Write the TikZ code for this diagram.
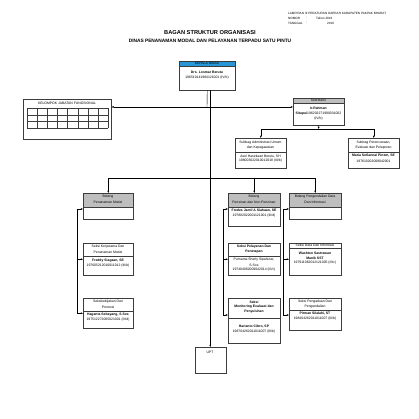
\documentclass[tikz,border=0pt]{standalone}
\usepackage{fontspec}
\setmainfont{Liberation Sans}
\usetikzlibrary{arrows.meta,calc}
\definecolor{kdblue}{RGB}{38,150,214}
\definecolor{hdrgray}{RGB}{190,190,190}
\definecolor{lnc}{RGB}{60,60,60}
\tikzset{
  box/.style={draw=lnc, line width=0.5pt, inner sep=0, anchor=north west, fill=white},
  hdr/.style={draw=lnc, line width=0.5pt},
  ln/.style={draw=black, line width=0.4pt},
  arr/.style={draw=black, line width=0.4pt, -{Latex[length=2.2pt,width=2pt]}},
  txt/.style={font=\fontsize{3.4}{4}\selectfont, inner sep=0, align=center},
  txtb/.style={font=\fontsize{3.4}{4}\selectfont\bfseries, inner sep=0, align=center},
  lamp/.style={font=\fontsize{3.1}{3.5}\selectfont, inner sep=0, anchor=west},
  ttla/.style={font=\fontsize{5.7}{6}\selectfont\bfseries, inner sep=0},
  ttlb/.style={font=\fontsize{4.8}{5.5}\selectfont\bfseries, inner sep=0}
}
\begin{document}
\begin{tikzpicture}[x=1pt,y=-1pt]
\useasboundingbox[fill=white] (0,0) rectangle (419,419);

% header texts
\node[lamp] (lp1) at (288,13) {LAMPIRAN III PERATURAN DAERAH KABUPATEN PAKPAK BHARAT};
\node[lamp] (lp2) at (288,18) {NOMOR};
\node[lamp] (lp2c) at (306,18) {:};
\node[lamp] (lp2v) at (316,18) {Tahun 2016};
\node[lamp] (lp3) at (288,23) {TANGGAL};
\node[lamp] (lp3c) at (306,23) {:};
\node[lamp] (lp3v) at (327,23) {2016};
\node[ttla] (ttl1) at (210,33) {BAGAN STRUKTUR ORGANISASI};
\node[ttlb] (ttl2) at (210,41) {DINAS PENANAMAN MODAL DAN PELAYANAN TERPADU SATU PINTU};

% Kepala Dinas
\node[box, minimum width=56pt, minimum height=29pt] (kd) at (179,61) {};
\filldraw[hdr, fill=kdblue] (kd.north west) rectangle ([yshift=-5pt]kd.north east);
\node[txt] (kd1) at (207,63.5) {KEPALA DINAS};
\node[txtb] (kd2) at (207,72) {Drs. Losmar Berutu};
\node[txt] (kd3) at (207,78) {196510141984121001 (IV/b)};

% Kelompok Jabatan Fungsional
\node[box, minimum width=88pt, minimum height=40pt] (kjf) at (23,99) {};
\node[txt] (kjf1) at (67,103) {KELOMPOK JABATAN FUNGSIONAL};
\foreach \i in {0,...,8} \draw[ln, draw=lnc] (26.7+\i*10.2,108.3) -- (26.7+\i*10.2,128.3);
\foreach \j in {0,...,3} \draw[ln, draw=lnc] (26.7,108.3+\j*6.67) -- (108.3,108.3+\j*6.67);

% Sekretaris
\node[box, minimum width=51pt, minimum height=27pt] (sek) at (293,98) {};
\filldraw[hdr, fill=hdrgray] (sek.north west) rectangle ([yshift=-5pt]sek.north east);
\node[txt] (sek1) at (318.5,100.5) {Sekretaris};
\node[txtb] (sek2) at (318.5,108) {Ir.Rahman};
\node[txt] (sek3) at (318.5,114) {\textbf{Situpu/}196202271990031002};
\node[txt] (sek4) at (318.5,119) {(IV/b)};

% Subbag
\node[box, minimum width=51pt, minimum height=30pt] (sa) at (235,138) {};
\draw[hdr] ([yshift=-14pt]sa.north west) -- ([yshift=-14pt]sa.north east);
\node[txt] (sa1) at (260.5,143) {Subbag Administrasi Umum};
\node[txt] (sa2) at (260.5,148) {dan Kepegawaian};
\node[txt] (sa3) at (260.5,156) {Asni Hasetiaan Berutu, SH};
\node[txt] (sa4) at (260.5,161) {198003022010012018 (III/b)};

\node[box, minimum width=51pt, minimum height=30pt] (sp) at (348,138) {};
\draw[hdr] ([yshift=-14pt]sp.north west) -- ([yshift=-14pt]sp.north east);
\node[txt] (sp1) at (373.5,143) {Subbag Perencanaan,};
\node[txt] (sp2) at (373.5,148) {Evaluasi dan Pelaporan};
\node[txtb] (sp3) at (373.5,156) {Maria Sofiannai Pinem, SE};
\node[txt] (sp4) at (373.5,161) {197610202008042001};

% Bidang
\node[box, minimum width=50pt, minimum height=26pt] (bpm) at (83,193) {};
\filldraw[hdr, fill=hdrgray] (bpm.north west) rectangle ([yshift=-14pt]bpm.north east);
\node[txt] (bpm1) at (108,197) {Bidang};
\node[txt] (bpm2) at (108,202) {Penanaman Modal};

\node[box, minimum width=52pt, minimum height=33pt] (bpp) at (228,193) {};
\filldraw[hdr, fill=hdrgray] (bpp.north west) rectangle ([yshift=-14pt]bpp.north east);
\node[txt] (bpp1) at (254,197) {Bidang};
\node[txt] (bpp2) at (254,202) {Perizinan dan Non Perizinan};
\node[txtb] (bpp3) at (254,211) {Fredes Jamil A Siahaan, SE};
\node[txt] (bpp4) at (254,216) {197802022001121001 (III/d)};

\node[box, minimum width=52pt, minimum height=26pt] (bpd) at (289,193) {};
\filldraw[hdr, fill=hdrgray] (bpd.north west) rectangle ([yshift=-14pt]bpd.north east);
\node[txt] (bpd1) at (315,197) {Bidang Pengendalian Data};
\node[txt] (bpd2) at (315,202) {Dan Informasi};

% Seksi (left)
\node[box, minimum width=50pt, minimum height=32pt] (skp) at (83,243) {};
\draw[hdr] ([yshift=-13pt]skp.north west) -- ([yshift=-13pt]skp.north east);
\node[txt] (skp1) at (108,247) {Seksi Kerjasama Dan};
\node[txt] (skp2) at (108,252) {Penanaman Modal};
\node[txtb] (skp3) at (108,261) {Freddy Siagaan, SE};
\node[txt] (skp4) at (108,266) {197605212010011012 (III/b)};

\node[box, minimum width=50pt, minimum height=30pt] (skb) at (83,298) {};
\draw[hdr] ([yshift=-13pt]skb.north west) -- ([yshift=-13pt]skb.north east);
\node[txt] (skb1) at (108,302) {Seksikebijakan Dan};
\node[txt] (skb2) at (108,307) {Promosi};
\node[txtb] (skb3) at (108,315) {Haganta Sebayang, S.Sos};
\node[txt] (skb4) at (108,320) {197512272005021001 (III/d)};

% Seksi (middle)
\node[box, minimum width=52pt, minimum height=32pt] (spl) at (228,243) {};
\draw[hdr] ([yshift=-13pt]spl.north west) -- ([yshift=-13pt]spl.north east);
\node[txtb] (spl1) at (254,247) {Seksi Pelayanan Dan};
\node[txtb] (spl2) at (254,252) {Penetapan};
\node[txt] (spl3) at (254,260) {Purnama Sherly Sipahutar,};
\node[txt] (spl4) at (254,265) {S.Sos};
\node[txt] (spl5) at (254,270) {197404082009042014 (III/c)};

\node[box, minimum width=52pt, minimum height=45pt] (spm) at (228,298) {};
\draw[hdr] ([yshift=-20pt]spm.north west) -- ([yshift=-20pt]spm.north east);
\node[txtb] (spm1) at (254,302) {Seksi};
\node[txtb] (spm2) at (254,307) {Monitoring Evaluasi dan};
\node[txtb] (spm3) at (254,312) {Penyuluhan};
\node[txtb] (spm4) at (254,327) {Harianto Cibro, SP};
\node[txt] (spm5) at (254,332) {198704262011011007 (III/b)};

% Seksi (right)
\node[box, minimum width=52pt, minimum height=32pt] (ssd) at (289,243) {};
\draw[hdr] ([yshift=-5pt]ssd.north west) -- ([yshift=-5pt]ssd.north east);
\node[txt] (ssd1) at (315,245.5) {Seksi Data Dan Informasi};
\node[txtb] (ssd2) at (315,253) {Washton Sastrawan};
\node[txtb] (ssd3) at (315,258) {Manik SST};
\node[txt] (ssd4) at (315,263) {197911062012121005 (III/c)};

\node[box, minimum width=52pt, minimum height=32pt] (sgd) at (289,298) {};
\draw[hdr] ([yshift=-12pt]sgd.north west) -- ([yshift=-12pt]sgd.north east);
\node[txt] (sgd1) at (315,302) {Seksi Pengaduan Dan};
\node[txt] (sgd2) at (315,307) {Pengendalian};
\node[txtb] (sgd3) at (315,314) {Pirman Silalahi, ST};
\node[txt] (sgd4) at (315,319) {198404262011011007 (III/b)};

% UPT
\node[box, minimum width=31pt, minimum height=26pt] (upt) at (194.5,347) {};
\node[txt] (upt1) at (210,352) {UPT};

% connectors
\coordinate (j1) at (207,107);
\draw[ln] (kd.south) -- (j1);
\draw[arr] (j1) -- (j1 -| kjf.east);
\draw[arr] (j1) -- (j1 -| sek.west);
\draw[arr] (kd.south -| upt.north) -- (upt.north);

\coordinate (j3) at (318.5,129);
\draw[arr] (sek.south) -- (j3);
\draw[ln] (j3 -| sa.north) -- (j3 -| sp.north);
\draw[arr] (j3 -| sa.north) -- (sa.north);
\draw[arr] (j3 -| sp.north) -- (sp.north);

\coordinate (j2) at (210,178);
\draw[ln] (j2 -| bpm.north) -- (j2 -| bpd.north);
\draw[arr] (j2 -| bpm.north) -- (bpm.north);
\draw[arr] (j2 -| bpp.north) -- (bpp.north);
\draw[arr] (j2 -| bpd.north) -- (bpd.north);

\coordinate (l1) at ([xshift=-6pt,yshift=-16pt]bpm.north west);
\draw[arr] (l1) -- (l1 -| bpm.west);
\draw[arr] (l1) |- (skp.west);
\draw[arr] (l1) |- (skb.west);

\coordinate (l2) at ([xshift=-5pt,yshift=-16pt]bpp.north west);
\draw[arr] (l2) -- (l2 -| bpp.west);
\draw[arr] (l2) |- (spl.west);
\draw[arr] (l2) |- ([yshift=-17pt]spm.north west);

\coordinate (l3) at ([xshift=-6pt,yshift=-16pt]bpd.north west);
\draw[arr] (l3) -- (l3 -| bpd.west);
\draw[arr] (l3) |- (ssd.west);
\draw[arr] (l3) |- ([yshift=-17pt]sgd.north west);
\end{tikzpicture}
\end{document}
